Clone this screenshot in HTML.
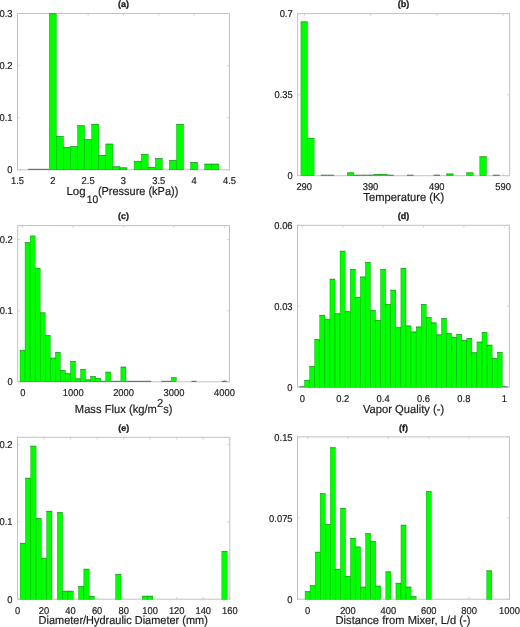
<!DOCTYPE html>
<html><head><meta charset="utf-8"><title>Histograms</title>
<style>
html,body{margin:0;padding:0;background:#fff;}
body{width:520px;height:627px;overflow:hidden;}
svg{display:block;}
text{font-family:"Liberation Sans",Arial,Helvetica,sans-serif;fill:#1e1e1e;stroke:#1e1e1e;text-rendering:geometricPrecision;}
.tt{font-weight:bold;}
</style></head>
<body>
<svg width="520" height="627" viewBox="0 0 520 627">
<rect x="0" y="0" width="520" height="627" fill="#ffffff"/>
<rect x="17.5" y="13.5" width="211.95" height="156.30" fill="none" stroke="#c2c2c2" stroke-width="1"/>
<line x1="17.50" y1="169.8" x2="17.50" y2="167.60000000000002" stroke="#c8c8c8" stroke-width="0.8"/>
<line x1="17.50" y1="13.5" x2="17.50" y2="15.7" stroke="#c8c8c8" stroke-width="0.8"/>
<text transform="matrix(0.10000 0 0 0.10500 17.50 184.25)" font-size="94.0" stroke-width="2.00" text-anchor="middle">1.5</text>
<line x1="52.82" y1="169.8" x2="52.82" y2="167.60000000000002" stroke="#c8c8c8" stroke-width="0.8"/>
<line x1="52.82" y1="13.5" x2="52.82" y2="15.7" stroke="#c8c8c8" stroke-width="0.8"/>
<text transform="matrix(0.10000 0 0 0.10500 52.82 184.25)" font-size="94.0" stroke-width="2.00" text-anchor="middle">2</text>
<line x1="88.15" y1="169.8" x2="88.15" y2="167.60000000000002" stroke="#c8c8c8" stroke-width="0.8"/>
<line x1="88.15" y1="13.5" x2="88.15" y2="15.7" stroke="#c8c8c8" stroke-width="0.8"/>
<text transform="matrix(0.10000 0 0 0.10500 88.15 184.25)" font-size="94.0" stroke-width="2.00" text-anchor="middle">2.5</text>
<line x1="123.47" y1="169.8" x2="123.47" y2="167.60000000000002" stroke="#c8c8c8" stroke-width="0.8"/>
<line x1="123.47" y1="13.5" x2="123.47" y2="15.7" stroke="#c8c8c8" stroke-width="0.8"/>
<text transform="matrix(0.10000 0 0 0.10500 123.47 184.25)" font-size="94.0" stroke-width="2.00" text-anchor="middle">3</text>
<line x1="158.80" y1="169.8" x2="158.80" y2="167.60000000000002" stroke="#c8c8c8" stroke-width="0.8"/>
<line x1="158.80" y1="13.5" x2="158.80" y2="15.7" stroke="#c8c8c8" stroke-width="0.8"/>
<text transform="matrix(0.10000 0 0 0.10500 158.80 184.25)" font-size="94.0" stroke-width="2.00" text-anchor="middle">3.5</text>
<line x1="194.12" y1="169.8" x2="194.12" y2="167.60000000000002" stroke="#c8c8c8" stroke-width="0.8"/>
<line x1="194.12" y1="13.5" x2="194.12" y2="15.7" stroke="#c8c8c8" stroke-width="0.8"/>
<text transform="matrix(0.10000 0 0 0.10500 194.12 184.25)" font-size="94.0" stroke-width="2.00" text-anchor="middle">4</text>
<line x1="229.45" y1="169.8" x2="229.45" y2="167.60000000000002" stroke="#c8c8c8" stroke-width="0.8"/>
<line x1="229.45" y1="13.5" x2="229.45" y2="15.7" stroke="#c8c8c8" stroke-width="0.8"/>
<text transform="matrix(0.10000 0 0 0.10500 229.45 184.25)" font-size="94.0" stroke-width="2.00" text-anchor="middle">4.5</text>
<line x1="17.5" y1="169.80" x2="19.7" y2="169.80" stroke="#c8c8c8" stroke-width="0.8"/>
<line x1="229.45" y1="169.80" x2="227.25" y2="169.80" stroke="#c8c8c8" stroke-width="0.8"/>
<text transform="matrix(0.10000 0 0 0.10500 12.60 173.40)" font-size="94.0" stroke-width="2.00" text-anchor="end">0</text>
<line x1="17.5" y1="117.70" x2="19.7" y2="117.70" stroke="#c8c8c8" stroke-width="0.8"/>
<line x1="229.45" y1="117.70" x2="227.25" y2="117.70" stroke="#c8c8c8" stroke-width="0.8"/>
<text transform="matrix(0.10000 0 0 0.10500 12.60 121.30)" font-size="94.0" stroke-width="2.00" text-anchor="end">0.1</text>
<line x1="17.5" y1="65.60" x2="19.7" y2="65.60" stroke="#c8c8c8" stroke-width="0.8"/>
<line x1="229.45" y1="65.60" x2="227.25" y2="65.60" stroke="#c8c8c8" stroke-width="0.8"/>
<text transform="matrix(0.10000 0 0 0.10500 12.60 69.20)" font-size="94.0" stroke-width="2.00" text-anchor="end">0.2</text>
<line x1="17.5" y1="13.50" x2="19.7" y2="13.50" stroke="#c8c8c8" stroke-width="0.8"/>
<line x1="229.45" y1="13.50" x2="227.25" y2="13.50" stroke="#c8c8c8" stroke-width="0.8"/>
<text transform="matrix(0.10000 0 0 0.10500 12.60 17.10)" font-size="94.0" stroke-width="2.00" text-anchor="end">0.3</text>
<rect x="28.10" y="168.80" width="7.07" height="1.1" fill="#4d7a4d"/>
<rect x="35.16" y="168.80" width="7.07" height="1.1" fill="#4d7a4d"/>
<rect x="42.23" y="168.80" width="7.06" height="1.1" fill="#4d7a4d"/>
<rect x="49.29" y="13.85" width="7.06" height="155.95" fill="#00ff00" stroke="#009a00" stroke-width="0.4"/>
<line x1="49.14" y1="13.85" x2="56.51" y2="13.85" stroke="#2a6a2a" stroke-width="0.45"/>
<rect x="56.36" y="136.35" width="7.07" height="33.45" fill="#00ff00" stroke="#009a00" stroke-width="0.4"/>
<line x1="56.21" y1="136.35" x2="63.57" y2="136.35" stroke="#2a6a2a" stroke-width="0.45"/>
<rect x="63.42" y="147.35" width="7.07" height="22.45" fill="#00ff00" stroke="#009a00" stroke-width="0.4"/>
<line x1="63.27" y1="147.35" x2="70.64" y2="147.35" stroke="#2a6a2a" stroke-width="0.45"/>
<rect x="70.49" y="146.45" width="7.07" height="23.35" fill="#00ff00" stroke="#009a00" stroke-width="0.4"/>
<line x1="70.34" y1="146.45" x2="77.70" y2="146.45" stroke="#2a6a2a" stroke-width="0.45"/>
<rect x="77.55" y="125.75" width="7.06" height="44.05" fill="#00ff00" stroke="#009a00" stroke-width="0.4"/>
<line x1="77.40" y1="125.75" x2="84.77" y2="125.75" stroke="#2a6a2a" stroke-width="0.45"/>
<rect x="84.62" y="139.65" width="7.06" height="30.15" fill="#00ff00" stroke="#009a00" stroke-width="0.4"/>
<line x1="84.47" y1="139.65" x2="91.83" y2="139.65" stroke="#2a6a2a" stroke-width="0.45"/>
<rect x="91.68" y="124.25" width="7.07" height="45.55" fill="#00ff00" stroke="#009a00" stroke-width="0.4"/>
<line x1="91.53" y1="124.25" x2="98.90" y2="124.25" stroke="#2a6a2a" stroke-width="0.45"/>
<rect x="98.75" y="155.35" width="7.06" height="14.45" fill="#00ff00" stroke="#009a00" stroke-width="0.4"/>
<line x1="98.60" y1="155.35" x2="105.96" y2="155.35" stroke="#2a6a2a" stroke-width="0.45"/>
<rect x="105.81" y="144.05" width="7.07" height="25.75" fill="#00ff00" stroke="#009a00" stroke-width="0.4"/>
<line x1="105.66" y1="144.05" x2="113.03" y2="144.05" stroke="#2a6a2a" stroke-width="0.45"/>
<rect x="112.88" y="166.75" width="7.06" height="3.05" fill="#00ff00" stroke="#009a00" stroke-width="0.4"/>
<line x1="112.73" y1="166.75" x2="120.09" y2="166.75" stroke="#2a6a2a" stroke-width="0.45"/>
<rect x="119.94" y="167.85" width="7.07" height="1.95" fill="#00ff00" stroke="#009a00" stroke-width="0.4"/>
<line x1="119.79" y1="167.85" x2="127.16" y2="167.85" stroke="#2a6a2a" stroke-width="0.45"/>
<rect x="134.07" y="161.35" width="7.06" height="8.45" fill="#00ff00" stroke="#009a00" stroke-width="0.4"/>
<line x1="133.92" y1="161.35" x2="141.29" y2="161.35" stroke="#2a6a2a" stroke-width="0.45"/>
<rect x="141.14" y="154.35" width="7.06" height="15.45" fill="#00ff00" stroke="#009a00" stroke-width="0.4"/>
<line x1="140.99" y1="154.35" x2="148.35" y2="154.35" stroke="#2a6a2a" stroke-width="0.45"/>
<rect x="148.20" y="167.35" width="7.06" height="2.45" fill="#00ff00" stroke="#009a00" stroke-width="0.4"/>
<line x1="148.05" y1="167.35" x2="155.42" y2="167.35" stroke="#2a6a2a" stroke-width="0.45"/>
<rect x="155.27" y="158.60" width="7.07" height="11.20" fill="#00ff00" stroke="#009a00" stroke-width="0.4"/>
<line x1="155.12" y1="158.60" x2="162.48" y2="158.60" stroke="#2a6a2a" stroke-width="0.45"/>
<rect x="169.40" y="160.35" width="7.06" height="9.45" fill="#00ff00" stroke="#009a00" stroke-width="0.4"/>
<line x1="169.25" y1="160.35" x2="176.61" y2="160.35" stroke="#2a6a2a" stroke-width="0.45"/>
<rect x="176.46" y="124.35" width="7.06" height="45.45" fill="#00ff00" stroke="#009a00" stroke-width="0.4"/>
<line x1="176.31" y1="124.35" x2="183.68" y2="124.35" stroke="#2a6a2a" stroke-width="0.45"/>
<rect x="190.59" y="162.55" width="7.06" height="7.25" fill="#00ff00" stroke="#009a00" stroke-width="0.4"/>
<line x1="190.44" y1="162.55" x2="197.81" y2="162.55" stroke="#2a6a2a" stroke-width="0.45"/>
<rect x="204.72" y="164.10" width="7.06" height="5.70" fill="#00ff00" stroke="#009a00" stroke-width="0.4"/>
<line x1="204.57" y1="164.10" x2="211.94" y2="164.10" stroke="#2a6a2a" stroke-width="0.45"/>
<rect x="211.79" y="164.10" width="7.06" height="5.70" fill="#00ff00" stroke="#009a00" stroke-width="0.4"/>
<line x1="211.64" y1="164.10" x2="219.00" y2="164.10" stroke="#2a6a2a" stroke-width="0.45"/>
<text transform="matrix(0.10000 0 0 0.10000 123.47 7.20)" font-size="90.0" stroke-width="3.00" text-anchor="middle" class="tt">(a)</text>
<rect x="297.6" y="13.6" width="212.05" height="162.10" fill="none" stroke="#c2c2c2" stroke-width="1"/>
<line x1="304.23" y1="175.7" x2="304.23" y2="173.5" stroke="#c8c8c8" stroke-width="0.8"/>
<line x1="304.23" y1="13.6" x2="304.23" y2="15.8" stroke="#c8c8c8" stroke-width="0.8"/>
<text transform="matrix(0.10000 0 0 0.10500 304.23 190.15)" font-size="94.0" stroke-width="2.00" text-anchor="middle">290</text>
<line x1="370.49" y1="175.7" x2="370.49" y2="173.5" stroke="#c8c8c8" stroke-width="0.8"/>
<line x1="370.49" y1="13.6" x2="370.49" y2="15.8" stroke="#c8c8c8" stroke-width="0.8"/>
<text transform="matrix(0.10000 0 0 0.10500 370.49 190.15)" font-size="94.0" stroke-width="2.00" text-anchor="middle">390</text>
<line x1="436.76" y1="175.7" x2="436.76" y2="173.5" stroke="#c8c8c8" stroke-width="0.8"/>
<line x1="436.76" y1="13.6" x2="436.76" y2="15.8" stroke="#c8c8c8" stroke-width="0.8"/>
<text transform="matrix(0.10000 0 0 0.10500 436.76 190.15)" font-size="94.0" stroke-width="2.00" text-anchor="middle">490</text>
<line x1="503.02" y1="175.7" x2="503.02" y2="173.5" stroke="#c8c8c8" stroke-width="0.8"/>
<line x1="503.02" y1="13.6" x2="503.02" y2="15.8" stroke="#c8c8c8" stroke-width="0.8"/>
<text transform="matrix(0.10000 0 0 0.10500 503.02 190.15)" font-size="94.0" stroke-width="2.00" text-anchor="middle">590</text>
<line x1="297.6" y1="175.70" x2="299.8" y2="175.70" stroke="#c8c8c8" stroke-width="0.8"/>
<line x1="509.65" y1="175.70" x2="507.45" y2="175.70" stroke="#c8c8c8" stroke-width="0.8"/>
<text transform="matrix(0.10000 0 0 0.10500 292.70 179.30)" font-size="94.0" stroke-width="2.00" text-anchor="end">0</text>
<line x1="297.6" y1="94.65" x2="299.8" y2="94.65" stroke="#c8c8c8" stroke-width="0.8"/>
<line x1="509.65" y1="94.65" x2="507.45" y2="94.65" stroke="#c8c8c8" stroke-width="0.8"/>
<text transform="matrix(0.10000 0 0 0.10500 292.70 98.25)" font-size="94.0" stroke-width="2.00" text-anchor="end">0.35</text>
<line x1="297.6" y1="13.60" x2="299.8" y2="13.60" stroke="#c8c8c8" stroke-width="0.8"/>
<line x1="509.65" y1="13.60" x2="507.45" y2="13.60" stroke="#c8c8c8" stroke-width="0.8"/>
<text transform="matrix(0.10000 0 0 0.10500 292.70 17.20)" font-size="94.0" stroke-width="2.00" text-anchor="end">0.7</text>
<rect x="300.91" y="21.85" width="6.63" height="153.85" fill="#00ff00" stroke="#009a00" stroke-width="0.4"/>
<line x1="300.76" y1="21.85" x2="307.69" y2="21.85" stroke="#2a6a2a" stroke-width="0.45"/>
<rect x="307.54" y="138.25" width="6.63" height="37.45" fill="#00ff00" stroke="#009a00" stroke-width="0.4"/>
<line x1="307.39" y1="138.25" x2="314.32" y2="138.25" stroke="#2a6a2a" stroke-width="0.45"/>
<rect x="320.79" y="174.70" width="6.63" height="1.1" fill="#4d7a4d"/>
<rect x="327.42" y="174.70" width="6.63" height="1.1" fill="#4d7a4d"/>
<rect x="347.30" y="172.85" width="6.63" height="2.85" fill="#00ff00" stroke="#009a00" stroke-width="0.4"/>
<line x1="347.15" y1="172.85" x2="354.08" y2="172.85" stroke="#2a6a2a" stroke-width="0.45"/>
<rect x="353.93" y="174.70" width="6.63" height="1.1" fill="#4d7a4d"/>
<rect x="360.55" y="174.70" width="6.63" height="1.1" fill="#4d7a4d"/>
<rect x="367.18" y="174.70" width="6.63" height="1.1" fill="#4d7a4d"/>
<rect x="373.81" y="174.35" width="6.63" height="1.35" fill="#00ff00" stroke="#009a00" stroke-width="0.4"/>
<line x1="373.66" y1="174.35" x2="380.58" y2="174.35" stroke="#2a6a2a" stroke-width="0.45"/>
<rect x="380.43" y="174.35" width="6.63" height="1.35" fill="#00ff00" stroke="#009a00" stroke-width="0.4"/>
<line x1="380.28" y1="174.35" x2="387.21" y2="174.35" stroke="#2a6a2a" stroke-width="0.45"/>
<rect x="387.06" y="174.70" width="6.63" height="1.1" fill="#4d7a4d"/>
<rect x="406.94" y="174.70" width="6.63" height="1.1" fill="#4d7a4d"/>
<rect x="433.44" y="174.70" width="6.63" height="1.1" fill="#4d7a4d"/>
<rect x="446.70" y="173.95" width="6.63" height="1.75" fill="#00ff00" stroke="#009a00" stroke-width="0.4"/>
<line x1="446.55" y1="173.95" x2="453.47" y2="173.95" stroke="#2a6a2a" stroke-width="0.45"/>
<rect x="466.58" y="172.85" width="6.63" height="2.85" fill="#00ff00" stroke="#009a00" stroke-width="0.4"/>
<line x1="466.43" y1="172.85" x2="473.35" y2="172.85" stroke="#2a6a2a" stroke-width="0.45"/>
<rect x="479.83" y="156.75" width="6.63" height="18.95" fill="#00ff00" stroke="#009a00" stroke-width="0.4"/>
<line x1="479.68" y1="156.75" x2="486.61" y2="156.75" stroke="#2a6a2a" stroke-width="0.45"/>
<rect x="493.08" y="174.70" width="6.63" height="1.1" fill="#4d7a4d"/>
<text transform="matrix(0.10000 0 0 0.10000 403.62 7.30)" font-size="90.0" stroke-width="3.00" text-anchor="middle" class="tt">(b)</text>
<rect x="17.7" y="225.6" width="211.80" height="156.20" fill="none" stroke="#c2c2c2" stroke-width="1"/>
<line x1="22.74" y1="381.8" x2="22.74" y2="379.6" stroke="#c8c8c8" stroke-width="0.8"/>
<line x1="22.74" y1="225.6" x2="22.74" y2="227.79999999999998" stroke="#c8c8c8" stroke-width="0.8"/>
<text transform="matrix(0.10000 0 0 0.10500 22.74 396.25)" font-size="94.0" stroke-width="2.00" text-anchor="middle">0</text>
<line x1="73.17" y1="381.8" x2="73.17" y2="379.6" stroke="#c8c8c8" stroke-width="0.8"/>
<line x1="73.17" y1="225.6" x2="73.17" y2="227.79999999999998" stroke="#c8c8c8" stroke-width="0.8"/>
<text transform="matrix(0.10000 0 0 0.10500 73.17 396.25)" font-size="94.0" stroke-width="2.00" text-anchor="middle">1000</text>
<line x1="123.60" y1="381.8" x2="123.60" y2="379.6" stroke="#c8c8c8" stroke-width="0.8"/>
<line x1="123.60" y1="225.6" x2="123.60" y2="227.79999999999998" stroke="#c8c8c8" stroke-width="0.8"/>
<text transform="matrix(0.10000 0 0 0.10500 123.60 396.25)" font-size="94.0" stroke-width="2.00" text-anchor="middle">2000</text>
<line x1="174.03" y1="381.8" x2="174.03" y2="379.6" stroke="#c8c8c8" stroke-width="0.8"/>
<line x1="174.03" y1="225.6" x2="174.03" y2="227.79999999999998" stroke="#c8c8c8" stroke-width="0.8"/>
<text transform="matrix(0.10000 0 0 0.10500 174.03 396.25)" font-size="94.0" stroke-width="2.00" text-anchor="middle">3000</text>
<line x1="224.46" y1="381.8" x2="224.46" y2="379.6" stroke="#c8c8c8" stroke-width="0.8"/>
<line x1="224.46" y1="225.6" x2="224.46" y2="227.79999999999998" stroke="#c8c8c8" stroke-width="0.8"/>
<text transform="matrix(0.10000 0 0 0.10500 224.46 396.25)" font-size="94.0" stroke-width="2.00" text-anchor="middle">4000</text>
<line x1="17.7" y1="381.80" x2="19.9" y2="381.80" stroke="#c8c8c8" stroke-width="0.8"/>
<line x1="229.5" y1="381.80" x2="227.3" y2="381.80" stroke="#c8c8c8" stroke-width="0.8"/>
<text transform="matrix(0.10000 0 0 0.10500 12.80 385.40)" font-size="94.0" stroke-width="2.00" text-anchor="end">0</text>
<line x1="17.7" y1="310.70" x2="19.9" y2="310.70" stroke="#c8c8c8" stroke-width="0.8"/>
<line x1="229.5" y1="310.70" x2="227.3" y2="310.70" stroke="#c8c8c8" stroke-width="0.8"/>
<text transform="matrix(0.10000 0 0 0.10500 12.80 314.30)" font-size="94.0" stroke-width="2.00" text-anchor="end">0.1</text>
<line x1="17.7" y1="239.60" x2="19.9" y2="239.60" stroke="#c8c8c8" stroke-width="0.8"/>
<line x1="229.5" y1="239.60" x2="227.3" y2="239.60" stroke="#c8c8c8" stroke-width="0.8"/>
<text transform="matrix(0.10000 0 0 0.10500 12.80 243.20)" font-size="94.0" stroke-width="2.00" text-anchor="end">0.2</text>
<rect x="20.02" y="350.35" width="5.04" height="31.45" fill="#00ff00" stroke="#009a00" stroke-width="0.4"/>
<line x1="19.87" y1="350.35" x2="25.21" y2="350.35" stroke="#2a6a2a" stroke-width="0.45"/>
<rect x="25.06" y="242.65" width="5.04" height="139.15" fill="#00ff00" stroke="#009a00" stroke-width="0.4"/>
<line x1="24.91" y1="242.65" x2="30.26" y2="242.65" stroke="#2a6a2a" stroke-width="0.45"/>
<rect x="30.11" y="236.05" width="5.04" height="145.75" fill="#00ff00" stroke="#009a00" stroke-width="0.4"/>
<line x1="29.96" y1="236.05" x2="35.30" y2="236.05" stroke="#2a6a2a" stroke-width="0.45"/>
<rect x="35.15" y="268.25" width="5.04" height="113.55" fill="#00ff00" stroke="#009a00" stroke-width="0.4"/>
<line x1="35.00" y1="268.25" x2="40.34" y2="268.25" stroke="#2a6a2a" stroke-width="0.45"/>
<rect x="40.19" y="312.85" width="5.04" height="68.95" fill="#00ff00" stroke="#009a00" stroke-width="0.4"/>
<line x1="40.04" y1="312.85" x2="45.39" y2="312.85" stroke="#2a6a2a" stroke-width="0.45"/>
<rect x="45.24" y="335.55" width="5.04" height="46.25" fill="#00ff00" stroke="#009a00" stroke-width="0.4"/>
<line x1="45.09" y1="335.55" x2="50.43" y2="335.55" stroke="#2a6a2a" stroke-width="0.45"/>
<rect x="50.28" y="358.05" width="5.04" height="23.75" fill="#00ff00" stroke="#009a00" stroke-width="0.4"/>
<line x1="50.13" y1="358.05" x2="55.47" y2="358.05" stroke="#2a6a2a" stroke-width="0.45"/>
<rect x="55.32" y="352.35" width="5.04" height="29.45" fill="#00ff00" stroke="#009a00" stroke-width="0.4"/>
<line x1="55.17" y1="352.35" x2="60.51" y2="352.35" stroke="#2a6a2a" stroke-width="0.45"/>
<rect x="60.36" y="370.45" width="5.04" height="11.35" fill="#00ff00" stroke="#009a00" stroke-width="0.4"/>
<line x1="60.21" y1="370.45" x2="65.56" y2="370.45" stroke="#2a6a2a" stroke-width="0.45"/>
<rect x="65.41" y="373.75" width="5.04" height="8.05" fill="#00ff00" stroke="#009a00" stroke-width="0.4"/>
<line x1="65.26" y1="373.75" x2="70.60" y2="373.75" stroke="#2a6a2a" stroke-width="0.45"/>
<rect x="70.45" y="361.45" width="5.04" height="20.35" fill="#00ff00" stroke="#009a00" stroke-width="0.4"/>
<line x1="70.30" y1="361.45" x2="75.64" y2="361.45" stroke="#2a6a2a" stroke-width="0.45"/>
<rect x="75.49" y="378.85" width="5.04" height="2.95" fill="#00ff00" stroke="#009a00" stroke-width="0.4"/>
<line x1="75.34" y1="378.85" x2="80.69" y2="378.85" stroke="#2a6a2a" stroke-width="0.45"/>
<rect x="80.54" y="369.55" width="5.04" height="12.25" fill="#00ff00" stroke="#009a00" stroke-width="0.4"/>
<line x1="80.39" y1="369.55" x2="85.73" y2="369.55" stroke="#2a6a2a" stroke-width="0.45"/>
<rect x="85.58" y="379.85" width="5.04" height="1.95" fill="#00ff00" stroke="#009a00" stroke-width="0.4"/>
<line x1="85.43" y1="379.85" x2="90.77" y2="379.85" stroke="#2a6a2a" stroke-width="0.45"/>
<rect x="90.62" y="376.55" width="5.04" height="5.25" fill="#00ff00" stroke="#009a00" stroke-width="0.4"/>
<line x1="90.47" y1="376.55" x2="95.81" y2="376.55" stroke="#2a6a2a" stroke-width="0.45"/>
<rect x="95.66" y="378.35" width="5.04" height="3.45" fill="#00ff00" stroke="#009a00" stroke-width="0.4"/>
<line x1="95.51" y1="378.35" x2="100.86" y2="378.35" stroke="#2a6a2a" stroke-width="0.45"/>
<rect x="100.71" y="380.80" width="5.04" height="1.1" fill="#4d7a4d"/>
<rect x="105.75" y="372.15" width="5.04" height="9.65" fill="#00ff00" stroke="#009a00" stroke-width="0.4"/>
<line x1="105.60" y1="372.15" x2="110.94" y2="372.15" stroke="#2a6a2a" stroke-width="0.45"/>
<rect x="110.79" y="380.80" width="5.04" height="1.1" fill="#4d7a4d"/>
<rect x="115.84" y="380.80" width="5.04" height="1.1" fill="#4d7a4d"/>
<rect x="120.88" y="367.05" width="5.04" height="14.75" fill="#00ff00" stroke="#009a00" stroke-width="0.4"/>
<line x1="120.73" y1="367.05" x2="126.07" y2="367.05" stroke="#2a6a2a" stroke-width="0.45"/>
<rect x="125.92" y="380.80" width="5.04" height="1.1" fill="#4d7a4d"/>
<rect x="130.96" y="380.80" width="5.04" height="1.1" fill="#4d7a4d"/>
<rect x="136.01" y="380.80" width="5.04" height="1.1" fill="#4d7a4d"/>
<rect x="141.05" y="380.80" width="5.04" height="1.1" fill="#4d7a4d"/>
<rect x="146.09" y="380.80" width="5.04" height="1.1" fill="#4d7a4d"/>
<rect x="161.22" y="380.80" width="5.04" height="1.1" fill="#4d7a4d"/>
<rect x="166.26" y="380.80" width="5.04" height="1.1" fill="#4d7a4d"/>
<rect x="171.31" y="377.75" width="5.04" height="4.05" fill="#00ff00" stroke="#009a00" stroke-width="0.4"/>
<line x1="171.16" y1="377.75" x2="176.50" y2="377.75" stroke="#2a6a2a" stroke-width="0.45"/>
<rect x="191.48" y="380.80" width="5.04" height="1.1" fill="#4d7a4d"/>
<rect x="221.74" y="380.80" width="5.04" height="1.1" fill="#4d7a4d"/>
<text transform="matrix(0.10000 0 0 0.10000 123.60 219.30)" font-size="90.0" stroke-width="3.00" text-anchor="middle" class="tt">(c)</text>
<rect x="297.5" y="225.3" width="211.90" height="161.90" fill="none" stroke="#c2c2c2" stroke-width="1"/>
<line x1="302.30" y1="387.2" x2="302.30" y2="385.0" stroke="#c8c8c8" stroke-width="0.8"/>
<line x1="302.30" y1="225.3" x2="302.30" y2="227.5" stroke="#c8c8c8" stroke-width="0.8"/>
<text transform="matrix(0.10000 0 0 0.10500 302.30 401.65)" font-size="94.0" stroke-width="2.00" text-anchor="middle">0</text>
<line x1="342.70" y1="387.2" x2="342.70" y2="385.0" stroke="#c8c8c8" stroke-width="0.8"/>
<line x1="342.70" y1="225.3" x2="342.70" y2="227.5" stroke="#c8c8c8" stroke-width="0.8"/>
<text transform="matrix(0.10000 0 0 0.10500 342.70 401.65)" font-size="94.0" stroke-width="2.00" text-anchor="middle">0.2</text>
<line x1="383.10" y1="387.2" x2="383.10" y2="385.0" stroke="#c8c8c8" stroke-width="0.8"/>
<line x1="383.10" y1="225.3" x2="383.10" y2="227.5" stroke="#c8c8c8" stroke-width="0.8"/>
<text transform="matrix(0.10000 0 0 0.10500 383.10 401.65)" font-size="94.0" stroke-width="2.00" text-anchor="middle">0.4</text>
<line x1="423.50" y1="387.2" x2="423.50" y2="385.0" stroke="#c8c8c8" stroke-width="0.8"/>
<line x1="423.50" y1="225.3" x2="423.50" y2="227.5" stroke="#c8c8c8" stroke-width="0.8"/>
<text transform="matrix(0.10000 0 0 0.10500 423.50 401.65)" font-size="94.0" stroke-width="2.00" text-anchor="middle">0.6</text>
<line x1="463.90" y1="387.2" x2="463.90" y2="385.0" stroke="#c8c8c8" stroke-width="0.8"/>
<line x1="463.90" y1="225.3" x2="463.90" y2="227.5" stroke="#c8c8c8" stroke-width="0.8"/>
<text transform="matrix(0.10000 0 0 0.10500 463.90 401.65)" font-size="94.0" stroke-width="2.00" text-anchor="middle">0.8</text>
<line x1="504.30" y1="387.2" x2="504.30" y2="385.0" stroke="#c8c8c8" stroke-width="0.8"/>
<line x1="504.30" y1="225.3" x2="504.30" y2="227.5" stroke="#c8c8c8" stroke-width="0.8"/>
<text transform="matrix(0.10000 0 0 0.10500 504.30 401.65)" font-size="94.0" stroke-width="2.00" text-anchor="middle">1</text>
<line x1="297.5" y1="387.20" x2="299.7" y2="387.20" stroke="#c8c8c8" stroke-width="0.8"/>
<line x1="509.4" y1="387.20" x2="507.2" y2="387.20" stroke="#c8c8c8" stroke-width="0.8"/>
<text transform="matrix(0.10000 0 0 0.10500 292.60 390.80)" font-size="94.0" stroke-width="2.00" text-anchor="end">0</text>
<line x1="297.5" y1="306.25" x2="299.7" y2="306.25" stroke="#c8c8c8" stroke-width="0.8"/>
<line x1="509.4" y1="306.25" x2="507.2" y2="306.25" stroke="#c8c8c8" stroke-width="0.8"/>
<text transform="matrix(0.10000 0 0 0.10500 292.60 309.85)" font-size="94.0" stroke-width="2.00" text-anchor="end">0.03</text>
<line x1="297.5" y1="225.30" x2="299.7" y2="225.30" stroke="#c8c8c8" stroke-width="0.8"/>
<line x1="509.4" y1="225.30" x2="507.2" y2="225.30" stroke="#c8c8c8" stroke-width="0.8"/>
<text transform="matrix(0.10000 0 0 0.10500 292.60 228.90)" font-size="94.0" stroke-width="2.00" text-anchor="end">0.06</text>
<rect x="299.50" y="386.20" width="5.07" height="1.1" fill="#4d7a4d"/>
<rect x="304.57" y="380.35" width="5.07" height="6.85" fill="#00ff00" stroke="#009a00" stroke-width="0.4"/>
<line x1="304.42" y1="380.35" x2="309.79" y2="380.35" stroke="#2a6a2a" stroke-width="0.45"/>
<rect x="309.64" y="366.45" width="5.07" height="20.75" fill="#00ff00" stroke="#009a00" stroke-width="0.4"/>
<line x1="309.49" y1="366.45" x2="314.86" y2="366.45" stroke="#2a6a2a" stroke-width="0.45"/>
<rect x="314.71" y="339.65" width="5.07" height="47.55" fill="#00ff00" stroke="#009a00" stroke-width="0.4"/>
<line x1="314.56" y1="339.65" x2="319.93" y2="339.65" stroke="#2a6a2a" stroke-width="0.45"/>
<rect x="319.78" y="315.25" width="5.07" height="71.95" fill="#00ff00" stroke="#009a00" stroke-width="0.4"/>
<line x1="319.63" y1="315.25" x2="325.00" y2="315.25" stroke="#2a6a2a" stroke-width="0.45"/>
<rect x="324.85" y="319.35" width="5.07" height="67.85" fill="#00ff00" stroke="#009a00" stroke-width="0.4"/>
<line x1="324.70" y1="319.35" x2="330.07" y2="319.35" stroke="#2a6a2a" stroke-width="0.45"/>
<rect x="329.92" y="279.15" width="5.07" height="108.05" fill="#00ff00" stroke="#009a00" stroke-width="0.4"/>
<line x1="329.77" y1="279.15" x2="335.14" y2="279.15" stroke="#2a6a2a" stroke-width="0.45"/>
<rect x="334.99" y="313.75" width="5.07" height="73.45" fill="#00ff00" stroke="#009a00" stroke-width="0.4"/>
<line x1="334.84" y1="313.75" x2="340.21" y2="313.75" stroke="#2a6a2a" stroke-width="0.45"/>
<rect x="340.06" y="251.15" width="5.07" height="136.05" fill="#00ff00" stroke="#009a00" stroke-width="0.4"/>
<line x1="339.91" y1="251.15" x2="345.28" y2="251.15" stroke="#2a6a2a" stroke-width="0.45"/>
<rect x="345.13" y="311.65" width="5.07" height="75.55" fill="#00ff00" stroke="#009a00" stroke-width="0.4"/>
<line x1="344.98" y1="311.65" x2="350.35" y2="311.65" stroke="#2a6a2a" stroke-width="0.45"/>
<rect x="350.20" y="269.55" width="5.07" height="117.65" fill="#00ff00" stroke="#009a00" stroke-width="0.4"/>
<line x1="350.05" y1="269.55" x2="355.42" y2="269.55" stroke="#2a6a2a" stroke-width="0.45"/>
<rect x="355.27" y="297.35" width="5.07" height="89.85" fill="#00ff00" stroke="#009a00" stroke-width="0.4"/>
<line x1="355.12" y1="297.35" x2="360.49" y2="297.35" stroke="#2a6a2a" stroke-width="0.45"/>
<rect x="360.34" y="276.95" width="5.07" height="110.25" fill="#00ff00" stroke="#009a00" stroke-width="0.4"/>
<line x1="360.19" y1="276.95" x2="365.56" y2="276.95" stroke="#2a6a2a" stroke-width="0.45"/>
<rect x="365.41" y="262.35" width="5.07" height="124.85" fill="#00ff00" stroke="#009a00" stroke-width="0.4"/>
<line x1="365.26" y1="262.35" x2="370.63" y2="262.35" stroke="#2a6a2a" stroke-width="0.45"/>
<rect x="370.48" y="310.25" width="5.07" height="76.95" fill="#00ff00" stroke="#009a00" stroke-width="0.4"/>
<line x1="370.33" y1="310.25" x2="375.70" y2="310.25" stroke="#2a6a2a" stroke-width="0.45"/>
<rect x="375.55" y="320.45" width="5.07" height="66.75" fill="#00ff00" stroke="#009a00" stroke-width="0.4"/>
<line x1="375.40" y1="320.45" x2="380.77" y2="320.45" stroke="#2a6a2a" stroke-width="0.45"/>
<rect x="380.62" y="269.55" width="5.07" height="117.65" fill="#00ff00" stroke="#009a00" stroke-width="0.4"/>
<line x1="380.47" y1="269.55" x2="385.84" y2="269.55" stroke="#2a6a2a" stroke-width="0.45"/>
<rect x="385.69" y="304.45" width="5.07" height="82.75" fill="#00ff00" stroke="#009a00" stroke-width="0.4"/>
<line x1="385.54" y1="304.45" x2="390.91" y2="304.45" stroke="#2a6a2a" stroke-width="0.45"/>
<rect x="390.76" y="290.15" width="5.07" height="97.05" fill="#00ff00" stroke="#009a00" stroke-width="0.4"/>
<line x1="390.61" y1="290.15" x2="395.98" y2="290.15" stroke="#2a6a2a" stroke-width="0.45"/>
<rect x="395.83" y="327.65" width="5.07" height="59.55" fill="#00ff00" stroke="#009a00" stroke-width="0.4"/>
<line x1="395.68" y1="327.65" x2="401.05" y2="327.65" stroke="#2a6a2a" stroke-width="0.45"/>
<rect x="400.90" y="268.35" width="5.07" height="118.85" fill="#00ff00" stroke="#009a00" stroke-width="0.4"/>
<line x1="400.75" y1="268.35" x2="406.12" y2="268.35" stroke="#2a6a2a" stroke-width="0.45"/>
<rect x="405.97" y="325.95" width="5.07" height="61.25" fill="#00ff00" stroke="#009a00" stroke-width="0.4"/>
<line x1="405.82" y1="325.95" x2="411.19" y2="325.95" stroke="#2a6a2a" stroke-width="0.45"/>
<rect x="411.04" y="331.95" width="5.07" height="55.25" fill="#00ff00" stroke="#009a00" stroke-width="0.4"/>
<line x1="410.89" y1="331.95" x2="416.26" y2="331.95" stroke="#2a6a2a" stroke-width="0.45"/>
<rect x="416.11" y="326.95" width="5.07" height="60.25" fill="#00ff00" stroke="#009a00" stroke-width="0.4"/>
<line x1="415.96" y1="326.95" x2="421.33" y2="326.95" stroke="#2a6a2a" stroke-width="0.45"/>
<rect x="421.18" y="304.45" width="5.07" height="82.75" fill="#00ff00" stroke="#009a00" stroke-width="0.4"/>
<line x1="421.03" y1="304.45" x2="426.40" y2="304.45" stroke="#2a6a2a" stroke-width="0.45"/>
<rect x="426.25" y="317.65" width="5.07" height="69.55" fill="#00ff00" stroke="#009a00" stroke-width="0.4"/>
<line x1="426.10" y1="317.65" x2="431.47" y2="317.65" stroke="#2a6a2a" stroke-width="0.45"/>
<rect x="431.32" y="322.85" width="5.07" height="64.35" fill="#00ff00" stroke="#009a00" stroke-width="0.4"/>
<line x1="431.17" y1="322.85" x2="436.54" y2="322.85" stroke="#2a6a2a" stroke-width="0.45"/>
<rect x="436.39" y="334.85" width="5.07" height="52.35" fill="#00ff00" stroke="#009a00" stroke-width="0.4"/>
<line x1="436.24" y1="334.85" x2="441.61" y2="334.85" stroke="#2a6a2a" stroke-width="0.45"/>
<rect x="441.46" y="318.55" width="5.07" height="68.65" fill="#00ff00" stroke="#009a00" stroke-width="0.4"/>
<line x1="441.31" y1="318.55" x2="446.68" y2="318.55" stroke="#2a6a2a" stroke-width="0.45"/>
<rect x="446.53" y="333.65" width="5.07" height="53.55" fill="#00ff00" stroke="#009a00" stroke-width="0.4"/>
<line x1="446.38" y1="333.65" x2="451.75" y2="333.65" stroke="#2a6a2a" stroke-width="0.45"/>
<rect x="451.60" y="337.25" width="5.07" height="49.95" fill="#00ff00" stroke="#009a00" stroke-width="0.4"/>
<line x1="451.45" y1="337.25" x2="456.82" y2="337.25" stroke="#2a6a2a" stroke-width="0.45"/>
<rect x="456.67" y="334.35" width="5.07" height="52.85" fill="#00ff00" stroke="#009a00" stroke-width="0.4"/>
<line x1="456.52" y1="334.35" x2="461.89" y2="334.35" stroke="#2a6a2a" stroke-width="0.45"/>
<rect x="461.74" y="340.35" width="5.07" height="46.85" fill="#00ff00" stroke="#009a00" stroke-width="0.4"/>
<line x1="461.59" y1="340.35" x2="466.96" y2="340.35" stroke="#2a6a2a" stroke-width="0.45"/>
<rect x="466.81" y="338.45" width="5.07" height="48.75" fill="#00ff00" stroke="#009a00" stroke-width="0.4"/>
<line x1="466.66" y1="338.45" x2="472.03" y2="338.45" stroke="#2a6a2a" stroke-width="0.45"/>
<rect x="471.88" y="352.75" width="5.07" height="34.45" fill="#00ff00" stroke="#009a00" stroke-width="0.4"/>
<line x1="471.73" y1="352.75" x2="477.10" y2="352.75" stroke="#2a6a2a" stroke-width="0.45"/>
<rect x="476.95" y="342.05" width="5.07" height="45.15" fill="#00ff00" stroke="#009a00" stroke-width="0.4"/>
<line x1="476.80" y1="342.05" x2="482.17" y2="342.05" stroke="#2a6a2a" stroke-width="0.45"/>
<rect x="482.02" y="332.45" width="5.07" height="54.75" fill="#00ff00" stroke="#009a00" stroke-width="0.4"/>
<line x1="481.87" y1="332.45" x2="487.24" y2="332.45" stroke="#2a6a2a" stroke-width="0.45"/>
<rect x="487.09" y="345.15" width="5.07" height="42.05" fill="#00ff00" stroke="#009a00" stroke-width="0.4"/>
<line x1="486.94" y1="345.15" x2="492.31" y2="345.15" stroke="#2a6a2a" stroke-width="0.45"/>
<rect x="492.16" y="358.35" width="5.07" height="28.85" fill="#00ff00" stroke="#009a00" stroke-width="0.4"/>
<line x1="492.01" y1="358.35" x2="497.38" y2="358.35" stroke="#2a6a2a" stroke-width="0.45"/>
<rect x="497.23" y="352.35" width="5.07" height="34.85" fill="#00ff00" stroke="#009a00" stroke-width="0.4"/>
<line x1="497.08" y1="352.35" x2="502.45" y2="352.35" stroke="#2a6a2a" stroke-width="0.45"/>
<rect x="502.30" y="386.20" width="5.07" height="1.1" fill="#4d7a4d"/>
<text transform="matrix(0.10000 0 0 0.10000 403.45 219.00)" font-size="90.0" stroke-width="3.00" text-anchor="middle" class="tt">(d)</text>
<rect x="17.5" y="437.3" width="212.30" height="161.90" fill="none" stroke="#c2c2c2" stroke-width="1"/>
<line x1="17.50" y1="599.2" x2="17.50" y2="597.0" stroke="#c8c8c8" stroke-width="0.8"/>
<line x1="17.50" y1="437.3" x2="17.50" y2="439.5" stroke="#c8c8c8" stroke-width="0.8"/>
<text transform="matrix(0.10000 0 0 0.10500 17.50 613.65)" font-size="94.0" stroke-width="2.00" text-anchor="middle">0</text>
<line x1="44.04" y1="599.2" x2="44.04" y2="597.0" stroke="#c8c8c8" stroke-width="0.8"/>
<line x1="44.04" y1="437.3" x2="44.04" y2="439.5" stroke="#c8c8c8" stroke-width="0.8"/>
<text transform="matrix(0.10000 0 0 0.10500 44.04 613.65)" font-size="94.0" stroke-width="2.00" text-anchor="middle">20</text>
<line x1="70.58" y1="599.2" x2="70.58" y2="597.0" stroke="#c8c8c8" stroke-width="0.8"/>
<line x1="70.58" y1="437.3" x2="70.58" y2="439.5" stroke="#c8c8c8" stroke-width="0.8"/>
<text transform="matrix(0.10000 0 0 0.10500 70.58 613.65)" font-size="94.0" stroke-width="2.00" text-anchor="middle">40</text>
<line x1="97.11" y1="599.2" x2="97.11" y2="597.0" stroke="#c8c8c8" stroke-width="0.8"/>
<line x1="97.11" y1="437.3" x2="97.11" y2="439.5" stroke="#c8c8c8" stroke-width="0.8"/>
<text transform="matrix(0.10000 0 0 0.10500 97.11 613.65)" font-size="94.0" stroke-width="2.00" text-anchor="middle">60</text>
<line x1="123.65" y1="599.2" x2="123.65" y2="597.0" stroke="#c8c8c8" stroke-width="0.8"/>
<line x1="123.65" y1="437.3" x2="123.65" y2="439.5" stroke="#c8c8c8" stroke-width="0.8"/>
<text transform="matrix(0.10000 0 0 0.10500 123.65 613.65)" font-size="94.0" stroke-width="2.00" text-anchor="middle">80</text>
<line x1="150.19" y1="599.2" x2="150.19" y2="597.0" stroke="#c8c8c8" stroke-width="0.8"/>
<line x1="150.19" y1="437.3" x2="150.19" y2="439.5" stroke="#c8c8c8" stroke-width="0.8"/>
<text transform="matrix(0.10000 0 0 0.10500 150.19 613.65)" font-size="94.0" stroke-width="2.00" text-anchor="middle">100</text>
<line x1="176.73" y1="599.2" x2="176.73" y2="597.0" stroke="#c8c8c8" stroke-width="0.8"/>
<line x1="176.73" y1="437.3" x2="176.73" y2="439.5" stroke="#c8c8c8" stroke-width="0.8"/>
<text transform="matrix(0.10000 0 0 0.10500 176.73 613.65)" font-size="94.0" stroke-width="2.00" text-anchor="middle">120</text>
<line x1="203.26" y1="599.2" x2="203.26" y2="597.0" stroke="#c8c8c8" stroke-width="0.8"/>
<line x1="203.26" y1="437.3" x2="203.26" y2="439.5" stroke="#c8c8c8" stroke-width="0.8"/>
<text transform="matrix(0.10000 0 0 0.10500 203.26 613.65)" font-size="94.0" stroke-width="2.00" text-anchor="middle">140</text>
<line x1="229.80" y1="599.2" x2="229.80" y2="597.0" stroke="#c8c8c8" stroke-width="0.8"/>
<line x1="229.80" y1="437.3" x2="229.80" y2="439.5" stroke="#c8c8c8" stroke-width="0.8"/>
<text transform="matrix(0.10000 0 0 0.10500 229.80 613.65)" font-size="94.0" stroke-width="2.00" text-anchor="middle">160</text>
<line x1="17.5" y1="599.20" x2="19.7" y2="599.20" stroke="#c8c8c8" stroke-width="0.8"/>
<line x1="229.8" y1="599.20" x2="227.60000000000002" y2="599.20" stroke="#c8c8c8" stroke-width="0.8"/>
<text transform="matrix(0.10000 0 0 0.10500 12.60 602.80)" font-size="94.0" stroke-width="2.00" text-anchor="end">0</text>
<line x1="17.5" y1="521.85" x2="19.7" y2="521.85" stroke="#c8c8c8" stroke-width="0.8"/>
<line x1="229.8" y1="521.85" x2="227.60000000000002" y2="521.85" stroke="#c8c8c8" stroke-width="0.8"/>
<text transform="matrix(0.10000 0 0 0.10500 12.60 525.45)" font-size="94.0" stroke-width="2.00" text-anchor="end">0.1</text>
<line x1="17.5" y1="444.50" x2="19.7" y2="444.50" stroke="#c8c8c8" stroke-width="0.8"/>
<line x1="229.8" y1="444.50" x2="227.60000000000002" y2="444.50" stroke="#c8c8c8" stroke-width="0.8"/>
<text transform="matrix(0.10000 0 0 0.10500 12.60 448.10)" font-size="94.0" stroke-width="2.00" text-anchor="end">0.2</text>
<rect x="20.15" y="543.25" width="5.31" height="55.95" fill="#00ff00" stroke="#009a00" stroke-width="0.4"/>
<line x1="20.00" y1="543.25" x2="25.61" y2="543.25" stroke="#2a6a2a" stroke-width="0.45"/>
<rect x="25.46" y="478.15" width="5.31" height="121.05" fill="#00ff00" stroke="#009a00" stroke-width="0.4"/>
<line x1="25.31" y1="478.15" x2="30.92" y2="478.15" stroke="#2a6a2a" stroke-width="0.45"/>
<rect x="30.77" y="446.15" width="5.31" height="153.05" fill="#00ff00" stroke="#009a00" stroke-width="0.4"/>
<line x1="30.62" y1="446.15" x2="36.23" y2="446.15" stroke="#2a6a2a" stroke-width="0.45"/>
<rect x="36.08" y="518.55" width="5.31" height="80.65" fill="#00ff00" stroke="#009a00" stroke-width="0.4"/>
<line x1="35.93" y1="518.55" x2="41.53" y2="518.55" stroke="#2a6a2a" stroke-width="0.45"/>
<rect x="41.38" y="558.15" width="5.31" height="41.05" fill="#00ff00" stroke="#009a00" stroke-width="0.4"/>
<line x1="41.23" y1="558.15" x2="46.84" y2="558.15" stroke="#2a6a2a" stroke-width="0.45"/>
<rect x="46.69" y="511.25" width="5.31" height="87.95" fill="#00ff00" stroke="#009a00" stroke-width="0.4"/>
<line x1="46.54" y1="511.25" x2="52.15" y2="511.25" stroke="#2a6a2a" stroke-width="0.45"/>
<rect x="57.31" y="512.55" width="5.31" height="86.65" fill="#00ff00" stroke="#009a00" stroke-width="0.4"/>
<line x1="57.16" y1="512.55" x2="62.76" y2="512.55" stroke="#2a6a2a" stroke-width="0.45"/>
<rect x="62.61" y="591.15" width="5.31" height="8.05" fill="#00ff00" stroke="#009a00" stroke-width="0.4"/>
<line x1="62.46" y1="591.15" x2="68.07" y2="591.15" stroke="#2a6a2a" stroke-width="0.45"/>
<rect x="67.92" y="591.15" width="5.31" height="8.05" fill="#00ff00" stroke="#009a00" stroke-width="0.4"/>
<line x1="67.77" y1="591.15" x2="73.38" y2="591.15" stroke="#2a6a2a" stroke-width="0.45"/>
<rect x="78.54" y="586.55" width="5.31" height="12.65" fill="#00ff00" stroke="#009a00" stroke-width="0.4"/>
<line x1="78.39" y1="586.55" x2="83.99" y2="586.55" stroke="#2a6a2a" stroke-width="0.45"/>
<rect x="83.84" y="569.15" width="5.31" height="30.05" fill="#00ff00" stroke="#009a00" stroke-width="0.4"/>
<line x1="83.69" y1="569.15" x2="89.30" y2="569.15" stroke="#2a6a2a" stroke-width="0.45"/>
<rect x="89.15" y="596.55" width="5.31" height="2.65" fill="#00ff00" stroke="#009a00" stroke-width="0.4"/>
<line x1="89.00" y1="596.55" x2="94.61" y2="596.55" stroke="#2a6a2a" stroke-width="0.45"/>
<rect x="115.69" y="574.35" width="5.31" height="24.85" fill="#00ff00" stroke="#009a00" stroke-width="0.4"/>
<line x1="115.54" y1="574.35" x2="121.15" y2="574.35" stroke="#2a6a2a" stroke-width="0.45"/>
<rect x="142.23" y="596.15" width="5.31" height="3.05" fill="#00ff00" stroke="#009a00" stroke-width="0.4"/>
<line x1="142.08" y1="596.15" x2="147.68" y2="596.15" stroke="#2a6a2a" stroke-width="0.45"/>
<rect x="147.53" y="596.15" width="5.31" height="3.05" fill="#00ff00" stroke="#009a00" stroke-width="0.4"/>
<line x1="147.38" y1="596.15" x2="152.99" y2="596.15" stroke="#2a6a2a" stroke-width="0.45"/>
<rect x="221.84" y="551.35" width="5.31" height="47.85" fill="#00ff00" stroke="#009a00" stroke-width="0.4"/>
<line x1="221.69" y1="551.35" x2="227.30" y2="551.35" stroke="#2a6a2a" stroke-width="0.45"/>
<text transform="matrix(0.10000 0 0 0.10000 123.65 431.00)" font-size="90.0" stroke-width="3.00" text-anchor="middle" class="tt">(e)</text>
<rect x="297.5" y="436.9" width="212.00" height="162.30" fill="none" stroke="#c2c2c2" stroke-width="1"/>
<line x1="307.60" y1="599.2" x2="307.60" y2="597.0" stroke="#c8c8c8" stroke-width="0.8"/>
<line x1="307.60" y1="436.9" x2="307.60" y2="439.09999999999997" stroke="#c8c8c8" stroke-width="0.8"/>
<text transform="matrix(0.10000 0 0 0.10500 307.60 613.65)" font-size="94.0" stroke-width="2.00" text-anchor="middle">0</text>
<line x1="347.98" y1="599.2" x2="347.98" y2="597.0" stroke="#c8c8c8" stroke-width="0.8"/>
<line x1="347.98" y1="436.9" x2="347.98" y2="439.09999999999997" stroke="#c8c8c8" stroke-width="0.8"/>
<text transform="matrix(0.10000 0 0 0.10500 347.98 613.65)" font-size="94.0" stroke-width="2.00" text-anchor="middle">200</text>
<line x1="388.36" y1="599.2" x2="388.36" y2="597.0" stroke="#c8c8c8" stroke-width="0.8"/>
<line x1="388.36" y1="436.9" x2="388.36" y2="439.09999999999997" stroke="#c8c8c8" stroke-width="0.8"/>
<text transform="matrix(0.10000 0 0 0.10500 388.36 613.65)" font-size="94.0" stroke-width="2.00" text-anchor="middle">400</text>
<line x1="428.74" y1="599.2" x2="428.74" y2="597.0" stroke="#c8c8c8" stroke-width="0.8"/>
<line x1="428.74" y1="436.9" x2="428.74" y2="439.09999999999997" stroke="#c8c8c8" stroke-width="0.8"/>
<text transform="matrix(0.10000 0 0 0.10500 428.74 613.65)" font-size="94.0" stroke-width="2.00" text-anchor="middle">600</text>
<line x1="469.12" y1="599.2" x2="469.12" y2="597.0" stroke="#c8c8c8" stroke-width="0.8"/>
<line x1="469.12" y1="436.9" x2="469.12" y2="439.09999999999997" stroke="#c8c8c8" stroke-width="0.8"/>
<text transform="matrix(0.10000 0 0 0.10500 469.12 613.65)" font-size="94.0" stroke-width="2.00" text-anchor="middle">800</text>
<line x1="509.50" y1="599.2" x2="509.50" y2="597.0" stroke="#c8c8c8" stroke-width="0.8"/>
<line x1="509.50" y1="436.9" x2="509.50" y2="439.09999999999997" stroke="#c8c8c8" stroke-width="0.8"/>
<text transform="matrix(0.10000 0 0 0.10500 509.50 613.65)" font-size="94.0" stroke-width="2.00" text-anchor="middle">1000</text>
<line x1="297.5" y1="599.20" x2="299.7" y2="599.20" stroke="#c8c8c8" stroke-width="0.8"/>
<line x1="509.5" y1="599.20" x2="507.3" y2="599.20" stroke="#c8c8c8" stroke-width="0.8"/>
<text transform="matrix(0.10000 0 0 0.10500 292.60 602.80)" font-size="94.0" stroke-width="2.00" text-anchor="end">0</text>
<line x1="297.5" y1="518.05" x2="299.7" y2="518.05" stroke="#c8c8c8" stroke-width="0.8"/>
<line x1="509.5" y1="518.05" x2="507.3" y2="518.05" stroke="#c8c8c8" stroke-width="0.8"/>
<text transform="matrix(0.10000 0 0 0.10500 292.60 521.65)" font-size="94.0" stroke-width="2.00" text-anchor="end">0.075</text>
<line x1="297.5" y1="436.90" x2="299.7" y2="436.90" stroke="#c8c8c8" stroke-width="0.8"/>
<line x1="509.5" y1="436.90" x2="507.3" y2="436.90" stroke="#c8c8c8" stroke-width="0.8"/>
<text transform="matrix(0.10000 0 0 0.10500 292.60 440.50)" font-size="94.0" stroke-width="2.00" text-anchor="end">0.15</text>
<rect x="305.07" y="591.65" width="5.05" height="7.55" fill="#00ff00" stroke="#009a00" stroke-width="0.4"/>
<line x1="304.92" y1="591.65" x2="310.27" y2="591.65" stroke="#2a6a2a" stroke-width="0.45"/>
<rect x="310.12" y="585.65" width="5.05" height="13.55" fill="#00ff00" stroke="#009a00" stroke-width="0.4"/>
<line x1="309.97" y1="585.65" x2="315.32" y2="585.65" stroke="#2a6a2a" stroke-width="0.45"/>
<rect x="315.17" y="552.15" width="5.05" height="47.05" fill="#00ff00" stroke="#009a00" stroke-width="0.4"/>
<line x1="315.02" y1="552.15" x2="320.36" y2="552.15" stroke="#2a6a2a" stroke-width="0.45"/>
<rect x="320.21" y="493.75" width="5.05" height="105.45" fill="#00ff00" stroke="#009a00" stroke-width="0.4"/>
<line x1="320.06" y1="493.75" x2="325.41" y2="493.75" stroke="#2a6a2a" stroke-width="0.45"/>
<rect x="325.26" y="524.55" width="5.05" height="74.65" fill="#00ff00" stroke="#009a00" stroke-width="0.4"/>
<line x1="325.11" y1="524.55" x2="330.46" y2="524.55" stroke="#2a6a2a" stroke-width="0.45"/>
<rect x="330.31" y="447.75" width="5.05" height="151.45" fill="#00ff00" stroke="#009a00" stroke-width="0.4"/>
<line x1="330.16" y1="447.75" x2="335.51" y2="447.75" stroke="#2a6a2a" stroke-width="0.45"/>
<rect x="335.36" y="569.35" width="5.05" height="29.85" fill="#00ff00" stroke="#009a00" stroke-width="0.4"/>
<line x1="335.21" y1="569.35" x2="340.55" y2="569.35" stroke="#2a6a2a" stroke-width="0.45"/>
<rect x="340.40" y="508.25" width="5.05" height="90.95" fill="#00ff00" stroke="#009a00" stroke-width="0.4"/>
<line x1="340.25" y1="508.25" x2="345.60" y2="508.25" stroke="#2a6a2a" stroke-width="0.45"/>
<rect x="345.45" y="576.35" width="5.05" height="22.85" fill="#00ff00" stroke="#009a00" stroke-width="0.4"/>
<line x1="345.30" y1="576.35" x2="350.65" y2="576.35" stroke="#2a6a2a" stroke-width="0.45"/>
<rect x="350.50" y="538.25" width="5.05" height="60.95" fill="#00ff00" stroke="#009a00" stroke-width="0.4"/>
<line x1="350.35" y1="538.25" x2="355.70" y2="538.25" stroke="#2a6a2a" stroke-width="0.45"/>
<rect x="355.55" y="546.95" width="5.05" height="52.25" fill="#00ff00" stroke="#009a00" stroke-width="0.4"/>
<line x1="355.40" y1="546.95" x2="360.75" y2="546.95" stroke="#2a6a2a" stroke-width="0.45"/>
<rect x="360.60" y="587.05" width="5.05" height="12.15" fill="#00ff00" stroke="#009a00" stroke-width="0.4"/>
<line x1="360.45" y1="587.05" x2="365.79" y2="587.05" stroke="#2a6a2a" stroke-width="0.45"/>
<rect x="365.64" y="533.75" width="5.05" height="65.45" fill="#00ff00" stroke="#009a00" stroke-width="0.4"/>
<line x1="365.49" y1="533.75" x2="370.84" y2="533.75" stroke="#2a6a2a" stroke-width="0.45"/>
<rect x="370.69" y="541.65" width="5.05" height="57.55" fill="#00ff00" stroke="#009a00" stroke-width="0.4"/>
<line x1="370.54" y1="541.65" x2="375.89" y2="541.65" stroke="#2a6a2a" stroke-width="0.45"/>
<rect x="375.74" y="586.05" width="5.05" height="13.15" fill="#00ff00" stroke="#009a00" stroke-width="0.4"/>
<line x1="375.59" y1="586.05" x2="380.94" y2="586.05" stroke="#2a6a2a" stroke-width="0.45"/>
<rect x="385.83" y="571.85" width="5.05" height="27.35" fill="#00ff00" stroke="#009a00" stroke-width="0.4"/>
<line x1="385.68" y1="571.85" x2="391.03" y2="571.85" stroke="#2a6a2a" stroke-width="0.45"/>
<rect x="395.93" y="583.25" width="5.05" height="15.95" fill="#00ff00" stroke="#009a00" stroke-width="0.4"/>
<line x1="395.78" y1="583.25" x2="401.13" y2="583.25" stroke="#2a6a2a" stroke-width="0.45"/>
<rect x="400.98" y="525.15" width="5.05" height="74.05" fill="#00ff00" stroke="#009a00" stroke-width="0.4"/>
<line x1="400.83" y1="525.15" x2="406.17" y2="525.15" stroke="#2a6a2a" stroke-width="0.45"/>
<rect x="406.02" y="587.05" width="5.05" height="12.15" fill="#00ff00" stroke="#009a00" stroke-width="0.4"/>
<line x1="405.87" y1="587.05" x2="411.22" y2="587.05" stroke="#2a6a2a" stroke-width="0.45"/>
<rect x="411.07" y="596.65" width="5.05" height="2.55" fill="#00ff00" stroke="#009a00" stroke-width="0.4"/>
<line x1="410.92" y1="596.65" x2="416.27" y2="596.65" stroke="#2a6a2a" stroke-width="0.45"/>
<rect x="426.21" y="491.65" width="5.05" height="107.55" fill="#00ff00" stroke="#009a00" stroke-width="0.4"/>
<line x1="426.06" y1="491.65" x2="431.41" y2="491.65" stroke="#2a6a2a" stroke-width="0.45"/>
<rect x="486.79" y="570.85" width="5.05" height="28.35" fill="#00ff00" stroke="#009a00" stroke-width="0.4"/>
<line x1="486.64" y1="570.85" x2="491.98" y2="570.85" stroke="#2a6a2a" stroke-width="0.45"/>
<text transform="matrix(0.10000 0 0 0.10000 403.50 430.60)" font-size="90.0" stroke-width="3.00" text-anchor="middle" class="tt">(f)</text>
<text transform="matrix(0.10300 0 0 0.10400 66.40 194.80)" font-size="112.0" stroke-width="2.00" text-anchor="start">Log</text>
<text transform="matrix(0.10000 0 0 0.10400 86.80 202.60)" font-size="103.0" stroke-width="2.00" text-anchor="start">10</text>
<text transform="matrix(0.09790 0 0 0.10400 97.90 194.80)" font-size="112.0" stroke-width="2.00" text-anchor="start">(Pressure (kPa))</text>
<text transform="matrix(0.10000 0 0 0.10400 403.80 200.90)" font-size="112.0" stroke-width="2.00" text-anchor="middle">Temperature (K)</text>
<text transform="matrix(0.10000 0 0 0.10400 74.80 412.70)" font-size="112.0" stroke-width="2.00" text-anchor="start">Mass Flux (kg/m<tspan dy="-51.92">2</tspan><tspan dy="51.92">s)</tspan></text>
<text transform="matrix(0.10000 0 0 0.10400 403.60 412.60)" font-size="112.0" stroke-width="2.00" text-anchor="middle">Vapor Quality (-)</text>
<text transform="matrix(0.09780 0 0 0.10400 123.20 624.00)" font-size="112.0" stroke-width="2.00" text-anchor="middle">Diameter/Hydraulic Diameter (mm)</text>
<text transform="matrix(0.10000 0 0 0.10400 403.00 624.30)" font-size="112.0" stroke-width="2.00" text-anchor="middle">Distance from Mixer, L/d (-)</text>
</svg>
</body></html>
